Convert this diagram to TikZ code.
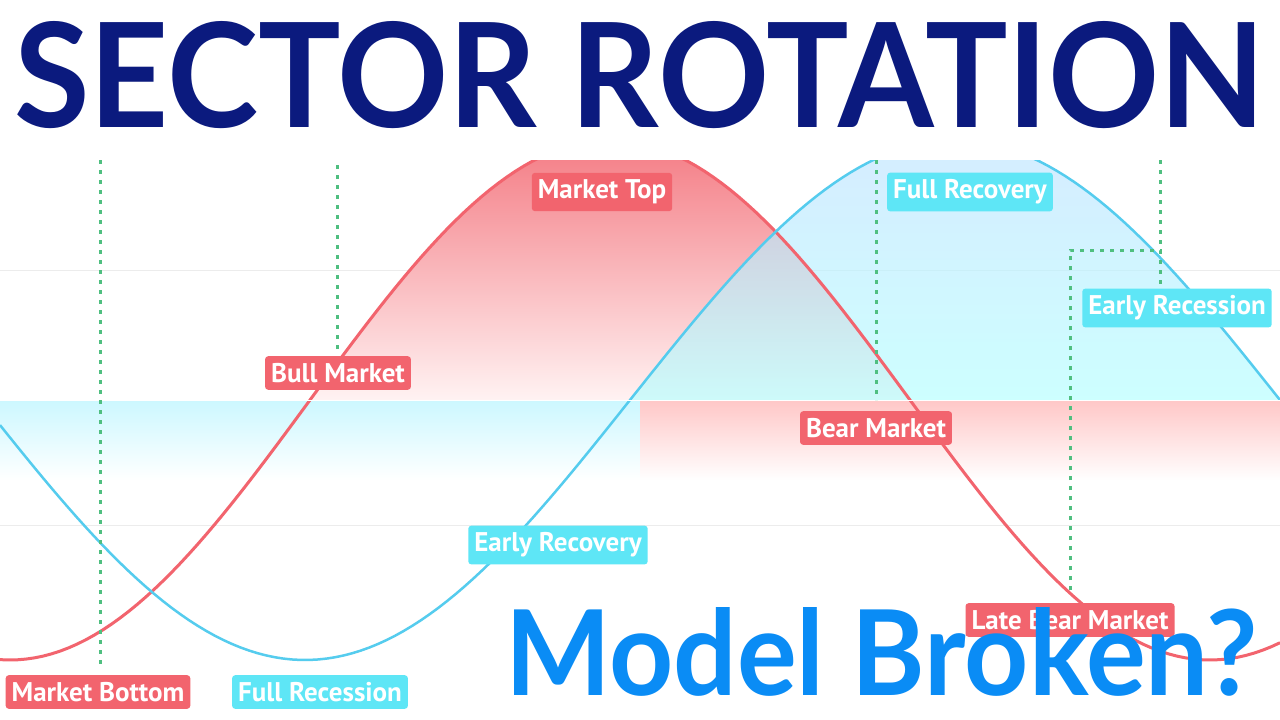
\documentclass[tikz,border=0pt]{standalone}
\usepackage{fontspec}
\setmainfont{Lato}
\newfontfamily\labfont{PT Sans}
\usetikzlibrary{shadings}
\definecolor{navy}{HTML}{0B1A7E}
\definecolor{mblue}{HTML}{0A8CF5}
\definecolor{lred}{HTML}{F2646E}
\definecolor{lcyan}{HTML}{5EE6F6}
\definecolor{cline}{HTML}{55CCEE}
\definecolor{dgreen}{HTML}{4FBF80}
\tikzset{
 redlab/.style={fill=lred,rounded corners=3pt,text=white,font=\labfont\bfseries\fontsize{27}{27}\selectfont,inner xsep=6pt,inner ysep=7pt},
 cyanlab/.style={redlab,fill=lcyan},
 guide/.style={dgreen,line width=3pt,dash pattern=on 4pt off 6pt},
}
\begin{document}
\begin{tikzpicture}[x=1pt,y=-1pt]
\useasboundingbox[fill=white] (0,0) rectangle (1280,720);
\shade[top color=blue!15!cyan!20,bottom color=white] (0,400) rectangle (640,480);
\shade[top color=red!22,bottom color=white] (640,400) rectangle (1280,480);
\draw[gray!15,line width=1pt] (0,270) -- (1280,270);
\draw[gray!15,line width=1pt] (0,525) -- (1280,525);
\begin{scope}
\clip (0,160) rectangle (1280,720);
\shade[top color=lred!85,bottom color=red!5] plot[domain=310:910,samples=80] ({\x},{400-260*sin((\x-310)*0.3)}) -- cycle;
\shade[top color=cyan!55!blue!25,bottom color=cyan!30,opacity=0.65] plot[domain=630:1280,samples=80] ({\x},{400-260*sin((\x-630)/650*180)}) -- cycle;
\draw[lred,line width=3pt] plot[domain=0:1280,samples=150] ({\x},{400-260*sin((\x-310)*0.3)});
\draw[cline,line width=2.5pt] plot[domain=0:1280,samples=150] ({\x},{400-260*sin((\x-630)/650*180)});
\end{scope}
\draw[white,line width=1pt] (0,400) -- (1280,400);
\coordinate (g1a) at (100,160); \coordinate (g1b) at (100,665);
\coordinate (g2a) at (337,165); \coordinate (g2b) at (337,350);
\coordinate (g3a) at (876,160); \coordinate (g3b) at (876,400);
\coordinate (g4a) at (1160,160); \coordinate (g4b) at (1160,250);
\coordinate (g5a) at (1070,590); \coordinate (g5b) at (1070,250);
\draw[guide] (g1a) -- (g1b);
\draw[guide] (g2a) -- (g2b);
\draw[guide] (g3a) -- (g3b);
\draw[guide] (g4a) -- (g4b);
\draw[guide] (g5a) -- (g5b) -- (g4b) -- (1160,290);
\node[redlab] (mt) at (602,192) {Market Top};
\node[cyanlab] (fr) at (970,192) {Full Recovery};
\node[cyanlab] (er) at (1177,308) {Early Recession};
\node[redlab] (bm) at (338,373) {Bull Market};
\node[redlab] (bear) at (876,428) {Bear Market};
\node[cyanlab] (erc) at (558,545) {Early Recovery};
\node[redlab] (lbm) at (1070,620) {Late Bear Market};
\node[redlab] (mb) at (98,692) {Market Bottom};
\node[cyanlab] (frc) at (320,692) {Full Recession};
\node[text=navy,font=\bfseries,inner sep=0pt] (title) at (640,75) {\resizebox{1250pt}{106pt}{SECTOR ROTATION}};
\node[text=mblue,font=\bfseries,inner sep=0pt,anchor=west] (sub) at (505,652) {\resizebox{752pt}{88pt}{Model Broken?}};
\end{tikzpicture}
\end{document}
